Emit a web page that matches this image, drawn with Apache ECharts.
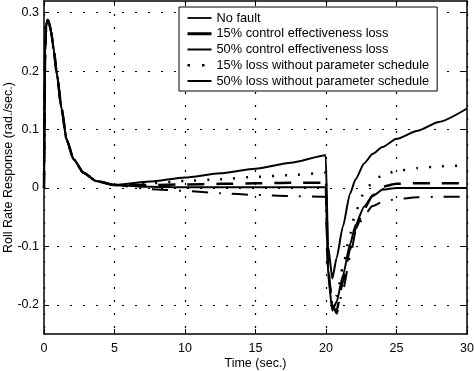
<!DOCTYPE html>
<html>
<head>
<meta charset="utf-8">
<script src="https://cdn.jsdelivr.net/npm/echarts@6/dist/echarts.min.js"></script>
<style>html,body{margin:0;padding:0;background:#fff;}#c{width:474px;height:371px;}</style>
</head>
<body>
<div id="c"></div>
<script>
// time samples (sec.)
var time = [0, 0.08, 0.15, 0.25, 0.35, 0.5, 0.7, 0.9, 1.25, 1.6, 2.1, 2.8, 3.7,
            5, 7.5, 10, 12.5, 15, 17.5, 19.98,
            20.15, 20.45, 20.75, 21.2, 21.7, 22.1, 22.7, 23.3, 24, 25, 26.5, 28, 30];
var startPart = [0, 0.23, 0.278, 0.288, 0.284, 0.268, 0.235, 0.197, 0.135, 0.083, 0.049, 0.026, 0.012];
var noFault = startPart.concat([0.005, 0.002, 0.001, 0.001, 0.001, 0.001, 0.001,
  -0.15, -0.21, -0.195, -0.15, -0.097, -0.063, -0.032, -0.014, -0.003, 0.0, 0.0, 0.0, 0.0]);
var loss15 = startPart.concat([0.005, 0.005, 0.006, 0.007, 0.008, 0.009, 0.009,
  -0.14, -0.205, -0.21, -0.16, -0.105, -0.07, -0.036, -0.013, 0.002, 0.007, 0.008, 0.008, 0.008]);
var loss50 = startPart.concat([0.005, -0.002, -0.005, -0.009, -0.012, -0.014, -0.015,
  -0.14, -0.2, -0.215, -0.175, -0.12, -0.075, -0.047, -0.031, -0.024, -0.019, -0.016, -0.015, -0.015]);
var loss15NoSched = startPart.concat([0.005, 0.008, 0.012, 0.015, 0.019, 0.022, 0.026,
  -0.14, -0.2, -0.185, -0.135, -0.08, -0.04, -0.008, 0.01, 0.022, 0.029, 0.034, 0.037, 0.039]);
var loss50NoSched = startPart.concat([0.005, 0.011, 0.018, 0.025, 0.033, 0.043, 0.056,
  -0.1, -0.155, -0.12, -0.066, -0.01, 0.015, 0.042, 0.058, 0.07, 0.084, 0.098, 0.113, 0.136]);
var seriesNames = ['No fault', '15% control effectiveness loss', '50% control effectiveness loss',
                   '15% loss without parameter schedule', '50% loss without parameter schedule'];
var xTicks = [0, 5, 10, 15, 20, 25, 30];
var yTicks = [-0.2, -0.1, 0, 0.1, 0.2, 0.3];

function pairs(v) { return time.map(function (t, i) { return [t, v[i]]; }); }
var FONT = "'Liberation Sans', Arial, Helvetica, sans-serif";
var gridDot = { color: '#000', width: 1.2, type: [2, 11] };

var chart = echarts.init(document.getElementById('c'), null, { renderer: 'canvas' });
var styles = [
  { width: 2, type: 'solid' },
  { width: 2.5, type: [17, 12] },
  { width: 2, type: [16, 11, 2, 11] },
  { width: 2.5, type: [2, 11] },
  { width: 2, type: 'solid' }
];
var datas = [noFault, loss15, loss50, loss15NoSched, loss50NoSched];
var series = datas.map(function (d, i) {
  return {
    name: seriesNames[i], type: 'line', data: pairs(d), symbol: 'none', showSymbol: false,
    smooth: 0.2, smoothMonotone: 'x', animation: false,
    itemStyle: { color: '#000' },
    lineStyle: { color: '#000', width: styles[i].width, type: styles[i].type }
  };
});
var legendWidths = [1.8, 3, 2, 2.5, 2];
chart.setOption({
  animation: false,
  backgroundColor: '#fff',
  textStyle: { fontFamily: FONT },
  grid: { left: 44, right: 7, top: 1, bottom: 37, containLabel: false, outerBoundsMode: 'none' },
  legend: {
    orient: 'vertical', left: 179, top: 7,
    backgroundColor: '#fff', borderColor: '#000', borderWidth: 1,
    padding: [4.5, 8, 3.5, 7], itemWidth: 24, itemHeight: 10, itemGap: 2.75,
    textStyle: { fontSize: 12.8, lineHeight: 13, color: '#000', fontFamily: FONT },
    data: seriesNames.map(function (n, i) {
      return { name: n, itemStyle: { color: '#000', opacity: 0, borderWidth: 0 },
        lineStyle: { type: i === 3 ? [2.5, 12] : 'solid', width: legendWidths[i], color: '#000', opacity: 1 } };
    })
  },
  xAxis: [{
    type: 'value', min: 0, max: 30, interval: 5, position: 'bottom',
    name: 'Time (sec.)', nameLocation: 'middle', nameGap: 23, nameMoveOverlap: false,
    nameTextStyle: { fontSize: 12.5, color: '#000', fontFamily: FONT },
    axisLine: { onZero: false, lineStyle: { color: '#000', width: 1.5 } },
    axisTick: { inside: true, length: 5, lineStyle: { color: '#000' } },
    axisLabel: { fontSize: 12.5, color: '#000', margin: 8, fontFamily: FONT },
    splitLine: { show: true, lineStyle: gridDot }
  }, {
    type: 'value', min: 0, max: 30, interval: 5, position: 'top',
    axisLine: { onZero: false, lineStyle: { color: '#000', width: 1.5 } },
    axisTick: { inside: true, length: 5, lineStyle: { color: '#000' } },
    axisLabel: { show: false }, splitLine: { show: false }
  }],
  yAxis: [{
    type: 'value', min: -0.25, max: 0.32, position: 'left',
    name: 'Roll Rate Response (rad./sec.)', nameLocation: 'middle', nameGap: 29, nameMoveOverlap: false,
    nameTextStyle: { fontSize: 12.5, color: '#000', fontFamily: FONT },
    axisLine: { onZero: false, lineStyle: { color: '#000', width: 1.5 } },
    axisTick: { inside: true, length: 5, customValues: yTicks, lineStyle: { color: '#000' } },
    axisLabel: { fontSize: 12.5, color: '#000', margin: 5, customValues: yTicks, fontFamily: FONT,
      formatter: function (v) { return String(Math.round(v * 10) / 10); } },
    splitLine: { show: true, lineStyle: gridDot }
  }, {
    type: 'value', min: -0.25, max: 0.32, position: 'right',
    axisLine: { show: true, onZero: false, lineStyle: { color: '#000', width: 1.5 } },
    axisTick: { show: true, inside: true, length: 5, customValues: yTicks, lineStyle: { color: '#000' } },
    axisLabel: { show: false }, splitLine: { show: false }
  }],
  series: series
});
</script>
</body>
</html>
